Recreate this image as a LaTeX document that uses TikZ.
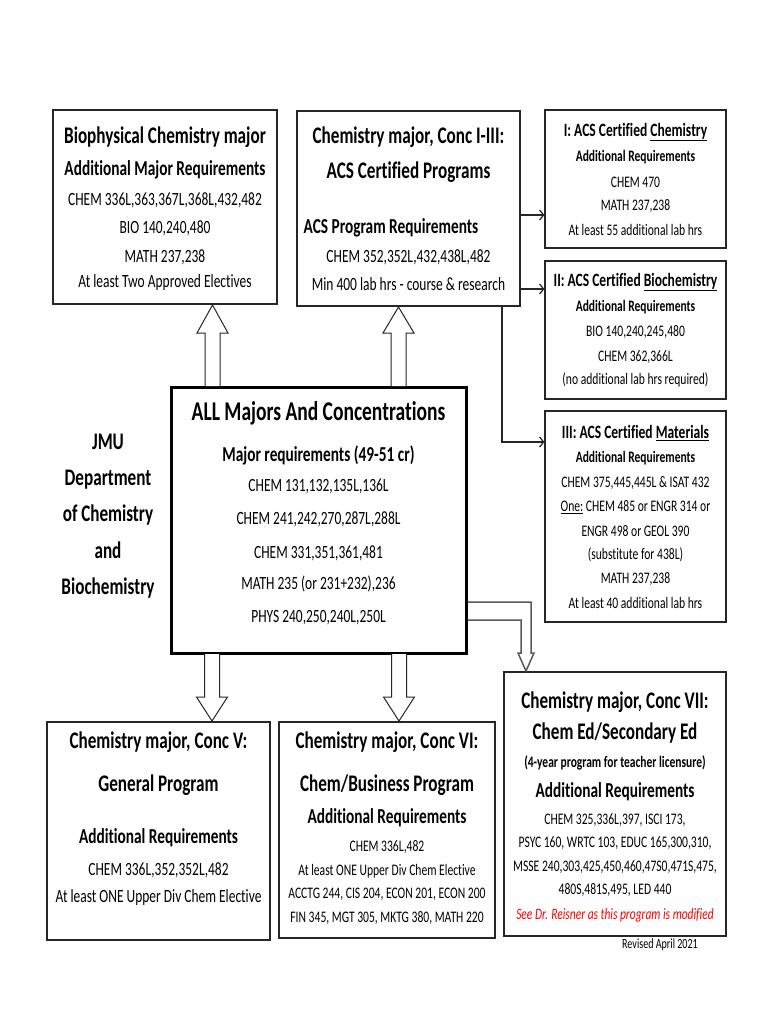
\documentclass[tikz,border=0pt]{standalone}
\usepackage{fontspec}
\setmainfont{Carlito}[FakeStretch=0.72, Ligatures=NoCommon]
\usetikzlibrary{arrows.meta}
\tikzstyle{box} = [rectangle, draw=black!85, line width=1.3pt, inner sep=0pt]
\tikzstyle{bigbox} = [box, draw=black, line width=3pt]
\tikzstyle{ttl} = [font=\bfseries\fontsize{23.8}{26}\selectfont, inner sep=0pt]
\tikzstyle{bigttl} = [font=\bfseries\fontsize{27.1}{30}\selectfont, inner sep=0pt]
\tikzstyle{sub} = [font=\bfseries\fontsize{21.3}{24}\selectfont, inner sep=0pt]
\tikzstyle{txt} = [font=\fontsize{18.7}{21}\selectfont, inner sep=0pt]
\tikzstyle{hdr} = [font=\bfseries\fontsize{18.8}{21}\selectfont, inner sep=0pt]
\tikzstyle{subhdr} = [font=\bfseries\fontsize{16}{18}\selectfont, inner sep=0pt]
\tikzstyle{smalltxt} = [font=\fontsize{16.1}{18}\selectfont, inner sep=0pt]
\tikzstyle{conn} = [draw=black!85, line width=1.2pt, -{Straight Barb[length=4pt,width=10pt]}]
\tikzstyle{hollow} = [draw=black!85, line width=1pt, fill=white]
\tikzstyle{dbl} = [draw=black!65, line width=1.5pt]
% x, tail, head base, tip
\newcommand{\blockarr}[4]{\draw[hollow] (#1-7.5,#2) -- (#1-7.5,#3) -- (#1-15.5,#3) -- (#1,#4) -- (#1+15.5,#3) -- (#1+7.5,#3) -- (#1+7.5,#2);}

\begin{document}
\begin{tikzpicture}[x=1pt, y=-1pt]
    \useasboundingbox[fill=white] (0,0) rectangle (768,1024);
    % Place boxes
    \node [box, minimum width=224, minimum height=194] (biophys) at (165,207) {};
    \node [box, minimum width=223, minimum height=195] (acs) at (408.5,208.5) {};
    \node [box, minimum width=181, minimum height=138] (chemI) at (635.5,179) {};
    \node [box, minimum width=181, minimum height=138] (biochemII) at (635.5,330) {};
    \node [box, minimum width=181, minimum height=211] (matIII) at (635.5,516.5) {};
    \node [bigbox, minimum width=295, minimum height=266] (allmaj) at (318.5,520) {};
    \node [box, minimum width=223, minimum height=218] (concV) at (158.5,831) {};
    \node [box, minimum width=216, minimum height=216] (concVI) at (387,830) {};
    \node [box, minimum width=222, minimum height=264] (concVII) at (615,804) {};
    % Biophysical Chemistry
    \node [ttl] (bp1) at (165,137) {Biophysical Chemistry major};
    \node [sub] (bp2) at (165,170) {Additional Major Requirements};
    \node [txt] (bp3) at (165,200) {CHEM 336L,363,367L,368L,432,482};
    \node [txt] (bp4) at (165,228) {BIO 140,240,480};
    \node [txt] (bp5) at (165,257) {MATH 237,238};
    \node [txt] (bp6) at (165,283) {At least Two Approved Electives};
    % ACS programs
    \node [ttl] (ac1) at (408.5,137) {Chemistry major, Conc I-III:};
    \node [ttl] (ac2) at (408.5,172) {ACS Certified Programs};
    \node [sub] (ac3) at (391,228) {ACS Program Requirements};
    \node [txt] (ac4) at (408.5,257) {CHEM 352,352L,432,438L,482};
    \node [txt] (ac5) at (408.5,284) {Min 400 lab hrs - course \& research};
    % Conc I
    \node [hdr] (ch1) at (635.5,132) {I: ACS Certified \underline{Chemistry}};
    \node [subhdr] (ch2) at (635.5,157) {Additional Requirements};
    \node [smalltxt] (ch3) at (635.5,182) {CHEM 470};
    \node [smalltxt] (ch4) at (635.5,206) {MATH 237,238};
    \node [smalltxt] (ch5) at (635.5,230) {At least 55 additional lab hrs};
    % Conc II
    \node [hdr] (bc1) at (635.5,282) {II: ACS Certified \underline{Biochemistry}};
    \node [subhdr] (bc2) at (635.5,307) {Additional Requirements};
    \node [smalltxt] (bc3) at (635.5,332) {BIO 140,240,245,480};
    \node [smalltxt] (bc4) at (635.5,357) {CHEM 362,366L};
    \node [smalltxt] (bc5) at (635.5,380) {(no additional lab hrs required)};
    % Conc III
    \node [hdr] (mt1) at (635.5,433) {III: ACS Certified \underline{Materials}};
    \node [subhdr] (mt2) at (635.5,458) {Additional Requirements};
    \node [smalltxt] (mt3) at (635.5,483) {CHEM 375,445,445L \& ISAT 432};
    \node [smalltxt] (mt4) at (635.5,507) {\underline{One:} CHEM 485 or ENGR 314 or};
    \node [smalltxt] (mt5) at (635.5,531) {ENGR 498 or GEOL 390};
    \node [smalltxt] (mt6) at (635.5,555) {(substitute for 438L)};
    \node [smalltxt] (mt7) at (635.5,579) {MATH 237,238};
    \node [smalltxt] (mt8) at (635.5,603) {At least 40 additional lab hrs};
    % All majors
    \node [bigttl] (al1) at (318.5,413) {ALL Majors And Concentrations};
    \node [sub] (al2) at (318.5,455) {Major requirements (49-51 cr)};
    \node [txt] (al3) at (318.5,486) {CHEM 131,132,135L,136L};
    \node [txt] (al4) at (318.5,519) {CHEM 241,242,270,287L,288L};
    \node [txt] (al5) at (318.5,553) {CHEM 331,351,361,481};
    \node [txt] (al6) at (318.5,584) {MATH 235 (or 231+232),236};
    \node [txt] (al7) at (318.5,618) {PHYS 240,250,240L,250L};
    \node [align=center, inner sep=0pt, font=\bfseries\fontsize{23.8}{36.25}\selectfont] (jmu) at (108,516) {JMU\\Department\\of Chemistry\\and\\Biochemistry};
    % Conc V
    \node [ttl] (gp1) at (158.5,742) {Chemistry major, Conc V:};
    \node [ttl] (gp2) at (158.5,785) {General Program};
    \node [sub] (gp3) at (158.5,838) {Additional Requirements};
    \node [txt] (gp4) at (158.5,870) {CHEM 336L,352,352L,482};
    \node [txt] (gp5) at (158.5,898) {At least ONE Upper Div Chem Elective};
    % Conc VI
    \node [ttl] (cb1) at (387,742) {Chemistry major, Conc VI:};
    \node [ttl] (cb2) at (387,785) {Chem/Business Program};
    \node [sub] (cb3) at (387,818) {Additional Requirements};
    \node [smalltxt] (cb4) at (387,847) {CHEM 336L,482};
    \node [smalltxt] (cb5) at (387,871) {At least ONE Upper Div Chem Elective};
    \node [smalltxt] (cb6) at (387,894) {ACCTG 244, CIS 204, ECON 201, ECON 200};
    \node [smalltxt] (cb7) at (387,918) {FIN 345, MGT 305, MKTG 380, MATH 220};
    % Conc VII
    \node [ttl] (ed1) at (615,702) {Chemistry major, Conc VII:};
    \node [ttl] (ed2) at (615,733) {Chem Ed/Secondary Ed};
    \node [subhdr] (ed3) at (615,763) {(4-year program for teacher licensure)};
    \node [sub] (ed4) at (615,792) {Additional Requirements};
    \node [smalltxt] (ed5) at (615,820) {CHEM 325,336L,397, ISCI 173,};
    \node [smalltxt] (ed6) at (615,843) {PSYC 160, WRTC 103, EDUC 165,300,310,};
    \node [smalltxt] (ed7) at (615,867) {MSSE 240,303,425,450,460,47S0,471S,475,};
    \node [smalltxt] (ed8) at (615,890) {480S,481S,495, LED 440};
    \node [smalltxt, text=red, font=\itshape\fontsize{15.9}{18}\selectfont] (ed9) at (615,915) {See Dr. Reisner as this program is modified};
    \node [inner sep=0pt, font=\fontsize{14}{16}\selectfont] (rev) at (660,945) {Revised April 2021};
    % Draw edges
    \draw [conn] (acs.east |- 0,215) -- (chemI.west |- 0,215);
    \draw [conn] (acs.east |- 0,289) -- (biochemII.west |- 0,289);
    \draw [conn] (acs.south -| 502,0) |- (matIII.west |- 0,442);
    \draw [dbl] (allmaj.east |- 0,602) -| (531,653) -- (534,653) -- (526,671) -- (518,653) -- (521,653) |- (allmaj.east |- 0,620);
    \blockarr{212.5}{386}{333}{305}
    \blockarr{398.5}{386}{333}{307}
    \blockarr{212}{654}{697}{721}
    \blockarr{399}{654}{697}{721}
\end{tikzpicture}
\end{document}
